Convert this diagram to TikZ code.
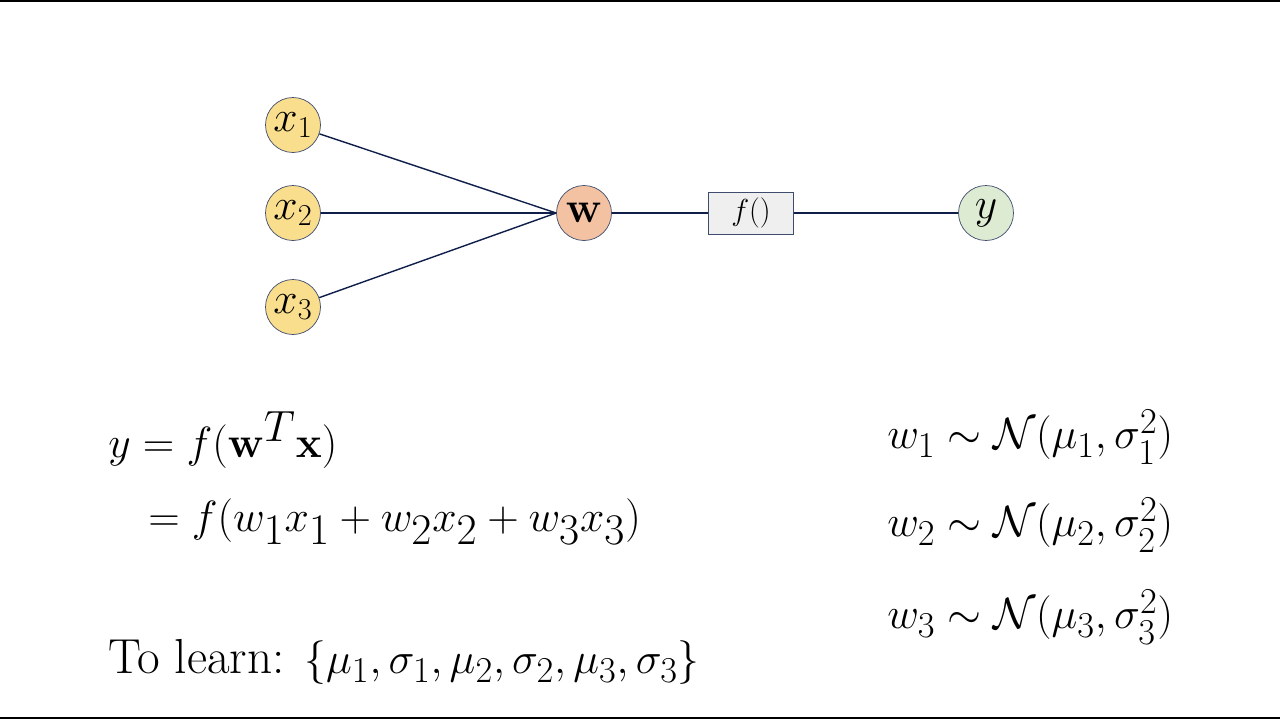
\documentclass[tikz,border=0pt]{standalone}
\usepackage{amsmath,amssymb}
\usepackage{tikz}
\usetikzlibrary{positioning}
\definecolor{inyellow}{HTML}{F9DE8E}
\definecolor{worange}{HTML}{F3C2A3}
\definecolor{ygreen}{HTML}{DCEBD2}
\definecolor{edgeblue}{HTML}{0F1F4A}
\definecolor{boxgray}{HTML}{EFEFEF}
\begin{document}
\begin{tikzpicture}[x=0.02cm, y=-0.02cm,
    unit/.style={circle, draw=edgeblue!80, fill=#1, minimum size=1.1cm, inner sep=0pt, font=\fontsize{25}{30}\selectfont},
    actbox/.style={rectangle, draw=edgeblue!80, fill=boxgray, minimum width=1.7cm, minimum height=0.8cm, font=\fontsize{18}{22}\selectfont},
    link/.style={edgeblue, thick},
    eq/.style={anchor=west, inner sep=0pt, font=\fontsize{36}{42}\selectfont},
    prior/.style={anchor=west, inner sep=0pt, font=\fontsize{28}{33}\selectfont}
]
\useasboundingbox (0,0) rectangle (1280,720);
\draw[line width=1.2pt] (0,1) -- (1280,1);
\draw[line width=1.2pt] (0,718) -- (1280,718);

% Input units
\node[unit=inyellow] (x1) at (293,125) {$x_1$};
\node[unit=inyellow] (x2) at (293,213) {$x_2$};
\node[unit=inyellow] (x3) at (293,307) {$x_3$};

% Weight, activation, output
\node[unit=worange] (w) at (584,213) {$\mathbf{w}$};
\node[actbox] (f) at (751,213) {$f()$};
\node[unit=ygreen] (y) at (986,213) {$y$};

% Connections
\draw[link] (x1) -- (w.west);
\draw[link] (x2) -- (w.west);
\draw[link] (x3) -- (w.west);
\draw[link] (w) -- (f);
\draw[link] (f) -- (y);

% Equations
\node[eq] (eq1) at (108,440) {$y = f(\mathbf{w}^T\mathbf{x})$};
\node[eq] (eq2) at (148,522) {$= f(w_1x_1 + w_2x_2 + w_3x_3)$};
\node[prior] (learn) at (108,662) {To learn: $\{\mu_1,\sigma_1,\mu_2,\sigma_2,\mu_3,\sigma_3\}$};

% Priors
\node[prior] (p1) at (887,437) {$w_1 \sim \mathcal{N}(\mu_1,\sigma_1^2)$};
\node[prior] (p2) at (887,525) {$w_2 \sim \mathcal{N}(\mu_2,\sigma_2^2)$};
\node[prior] (p3) at (887,617) {$w_3 \sim \mathcal{N}(\mu_3,\sigma_3^2)$};
\end{tikzpicture}
\end{document}
